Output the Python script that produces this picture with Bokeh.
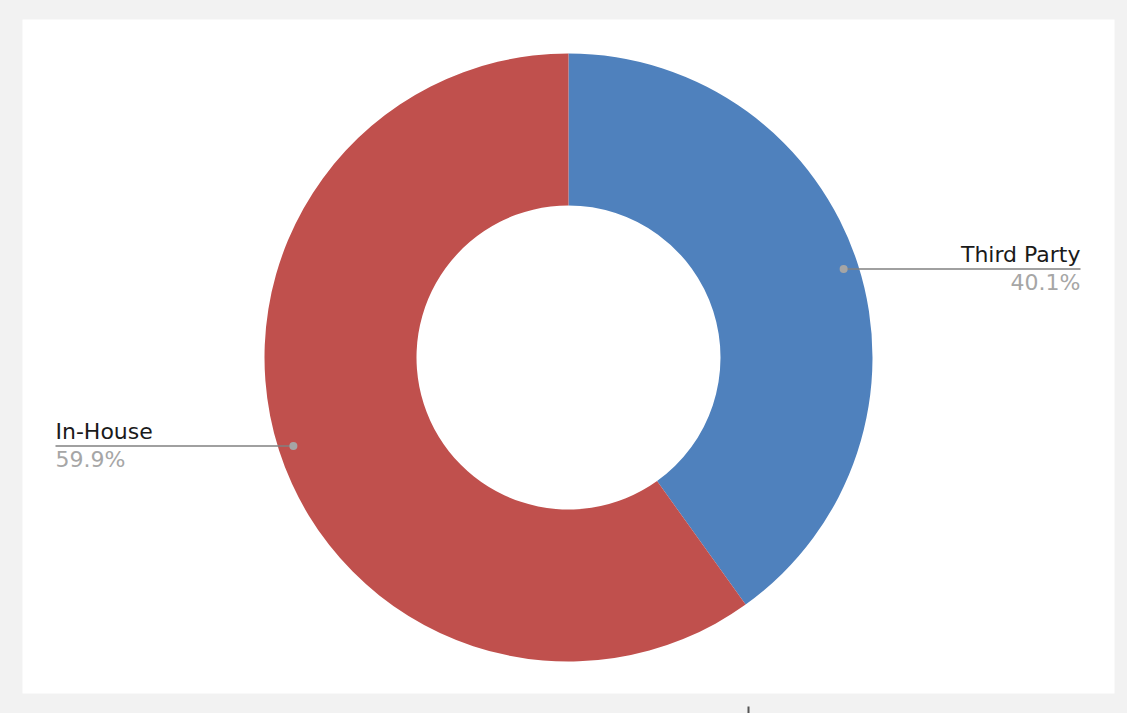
import math
from bokeh.plotting import figure
from bokeh.models import Range1d, ColumnDataSource
from bokeh.core.properties import value
from bokeh.embed import file_html
from bokeh.resources import INLINE

# ---- data ----
categories = ["Third Party", "In-House"]
shares = [40.1, 59.9]
pct_labels = ["40.1%", "59.9%"]
colors = ["#4f81bd", "#c0504d"]

W, H = 1127, 713
p = figure(width=W, height=H, output_backend="svg", toolbar_location=None,
           x_range=Range1d(0, W), y_range=Range1d(0, H), min_border=0,
           background_fill_color="#f2f2f2", border_fill_color="#f2f2f2")
p.axis.visible = False
p.grid.visible = False
p.outline_line_color = None

# white panel
p.quad(left=[22], right=[1114], bottom=[20], top=[694], fill_color="white", line_color=None)
# small tick below panel
p.segment(x0=[748], y0=[0], x1=[748], y1=[7], line_color="#555555", line_width=2)

cx, cy = 568, 356
r_out, r_in = 304, 152
total = sum(shares)
starts, ends, mids = [], [], []
a = math.pi / 2
for s in shares:
    sweep = 2 * math.pi * s / total
    starts.append(a)
    ends.append(a - sweep)
    mids.append(a - sweep / 2)
    a -= sweep

src = ColumnDataSource(dict(start=starts, end=ends, color=colors, cat=categories))
p.annular_wedge(x=cx, y=cy, inner_radius=r_in, outer_radius=r_out,
                start_angle="start", end_angle="end", direction="clock",
                fill_color="color", line_color=None, source=src)

# labels
r_dot = r_out - 15
for cat, pct, m in zip(categories, pct_labels, mids):
    dx = cx + r_dot * math.cos(m)
    dy = cy + r_dot * math.sin(m)
    right = math.cos(m) >= 0
    xe = 1080 if right else 55
    align = "right" if right else "left"
    p.line([dx, xe], [dy, dy], line_color="#808080", line_width=1.6)
    p.scatter([dx], [dy], size=8, fill_color="#a5a5a5", line_color=None)
    p.text([xe], [dy], text=[cat], text_align=align, text_baseline="bottom",
           y_offset=-2, text_font=value("DejaVu Sans"), text_font_size="22px",
           text_color="#1a1a1a")
    p.text([xe], [dy], text=[pct], text_align=align, text_baseline="top",
           y_offset=1, text_font=value("DejaVu Sans"), text_font_size="22px",
           text_color="#a6a6a6")

html = None
try:
    from bokeh.core.templates import get_env
    tmpl = get_env().from_string(
        '{% extends "file.html" %}{% block preamble %}'
        '<style>html,body{background:#f2f2f2;}</style>{% endblock %}')
    html = file_html(p, INLINE, template=tmpl)
except Exception:
    html = file_html(p, INLINE)
open("out.html", "w").write(html)
